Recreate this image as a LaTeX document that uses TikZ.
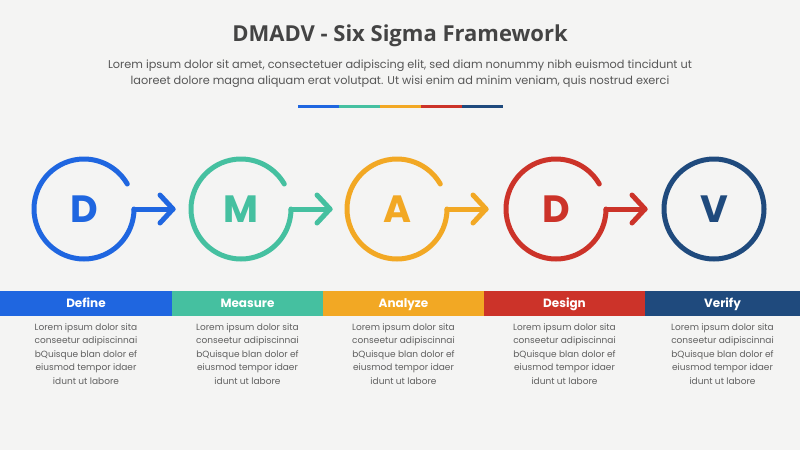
\documentclass[tikz,border=0pt]{standalone}
\usepackage{fontspec}
\setmainfont{Poppins}
\newfontfamily\titlefont{Open Sans}
\usetikzlibrary{calc}
\definecolor{cA}{HTML}{1F66E0}
\definecolor{cB}{HTML}{45C0A0}
\definecolor{cC}{HTML}{F2A824}
\definecolor{cD}{HTML}{CC3329}
\definecolor{cE}{HTML}{1F4A7D}
\definecolor{bg}{HTML}{F4F4F3}
\definecolor{txt}{HTML}{444444}
\begin{document}
\begin{tikzpicture}[x=1pt,y=-1pt,
  ring/.style={line width=5pt,line cap=round,line join=round},
  letter/.style={font=\bfseries\fontsize{38}{38}\selectfont},
  lbl/.style={font=\bfseries\fontsize{12}{12}\selectfont,text=white,text height=9pt,text depth=3pt},
  body/.style={font=\fontsize{9}{13.6}\selectfont,text=txt!85,align=center}]
\fill[bg] (0,0) rectangle (800,450);
\node[font=\titlefont\bfseries\fontsize{22}{22}\selectfont,text=txt] (title) at (400,36) {DMADV - Six Sigma Framework};
\node[font=\fontsize{11.3}{16}\selectfont,text=txt!90,align=center] (sub) at (400,74) {Lorem ipsum dolor sit amet, consectetuer adipiscing elit, sed diam nonummy nibh euismod tincidunt ut\\laoreet dolore magna aliquam erat volutpat. Ut wisi enim ad minim veniam, quis nostrud exerci};
\foreach \c [count=\i from 0] in {cA,cB,cC,cD,cE}
  \draw[\c,line width=3pt] (298+\i*41,106) -- (339+\i*41,106);
\foreach \x/\c/\L/\nm [count=\i] in {84/cA/D/Define,241/cB/M/Measure,397/cC/A/Analyze,556/cD/D/Design}{
  \node[letter,text=\c] (l\i) at (\x,209) {\L};
  \draw[ring,\c] (\x+50,209) arc[start angle=0,end angle=330,radius=50];
  \coordinate (s\i) at (\x+50,209);
  \coordinate (e\i) at (\x+89,209);
  \draw[ring,\c] (s\i) -- (e\i);
  \draw[ring,\c] ($(e\i)+(-13,-14)$) -- (e\i) -- ($(e\i)+(-13,14)$);
}
\node[letter,text=cE] (l5) at (714,209) {V};
\draw[ring,cE] (714,209) circle[radius=50];
\foreach \a/\b/\c/\nm/\i in {0/172/cA/Define/1,172/323/cB/Measure/2,323/484/cC/Analyze/3,484/645/cD/Design/4,645/800/cE/Verify/5}{
  \fill[\c] (\a,291) rectangle (\b,316);
  \node[lbl] (b\i) at ({(\a+\b)/2},304) {\nm};
  \node[body] (t\i) at ({(\a+\b)/2},354) {Lorem ipsum dolor sita\\conseetur adipiscinnai\\bQuisque blan dolor ef\\eiusmod tempor idaer\\idunt ut labore};
}
\end{tikzpicture}
\end{document}
